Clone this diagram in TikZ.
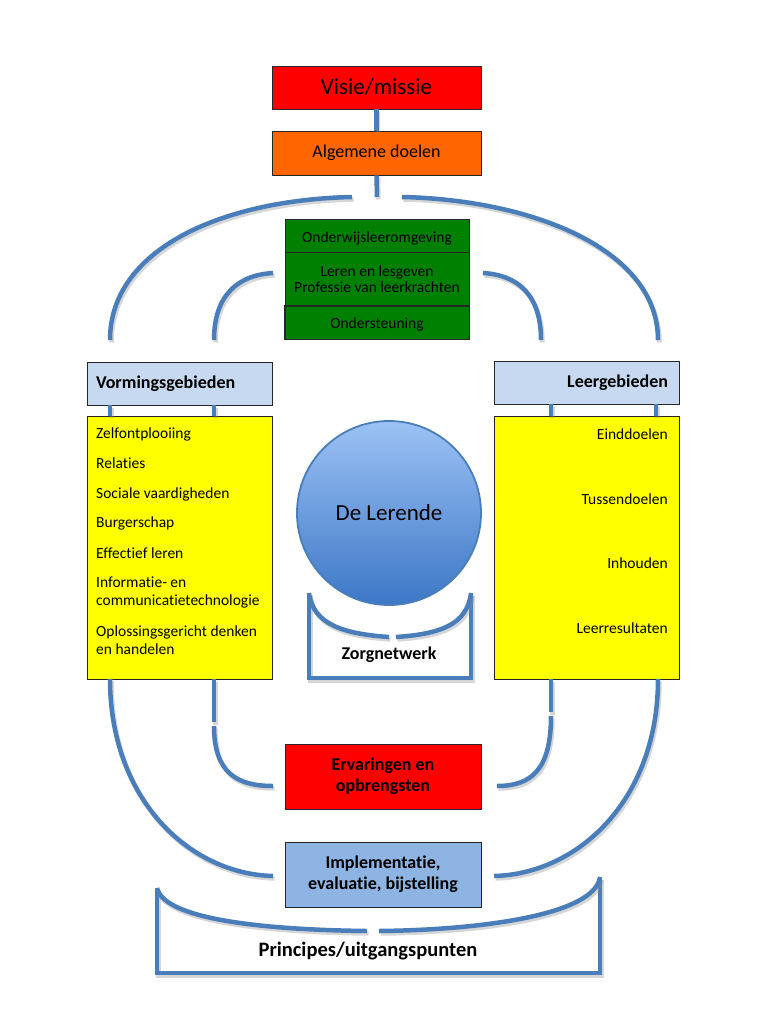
\documentclass[tikz,border=0pt]{standalone}
\usepackage{fontspec}
\setmainfont{Carlito}[Ligatures=NoCommon]
\definecolor{lineblue}{HTML}{4A7EBB}
\definecolor{vred}{HTML}{FF0000}
\definecolor{vorange}{HTML}{FF6600}
\definecolor{vgreen}{HTML}{008000}
\definecolor{vyellow}{HTML}{FFFF00}
\definecolor{hdrblue}{HTML}{C6D9F1}
\definecolor{implblue}{HTML}{8DB4E2}
\definecolor{ctop}{HTML}{9CC2F5}
\definecolor{cbot}{HTML}{3C77C6}
\begin{document}
\begin{tikzpicture}[x=1pt,y=-1pt,
  conn/.style={draw=lineblue, line width=4.5pt,
    preaction={draw=black!45, opacity=0.35, line width=4.5pt, transform canvas={shift={(1.5pt,-2.5pt)}}}},
  box/.style={draw=black!85, line width=0.9pt, inner sep=0pt, align=center},
  body/.style={font=\fontsize{15.5}{18}\selectfont},
  bodyb/.style={font=\fontsize{18}{21}\selectfont\bfseries},
  item/.style={body, anchor=west, align=left, inner sep=0pt},
  ritem/.style={body, anchor=east, align=right, inner sep=0pt}]
\useasboundingbox (0,0) rectangle (768,1024);
\fill[white] (0,0) rectangle (768,1024);

% top boxes
\node[box, fill=vred, minimum width=209, minimum height=43, font=\fontsize{23}{26}\selectfont] (visie) at (376.5,87.5) {Visie/missie};
\node[box, fill=vorange, minimum width=209, minimum height=44, font=\fontsize{18}{21}\selectfont] (doelen) at (376.5,153) {Algemene doelen};
\coordinate (topend) at (377,197);
\draw[conn] (visie.south) -- (doelen.north);
\draw[conn] (doelen.south) -- (topend);

% outer top arcs
\coordinate (otl) at (110,340);
\coordinate (otle) at (352,197);
\coordinate (otre) at (402,197);
\coordinate (otr) at (658,340);
\draw[conn] (otl) .. controls (110,250) and (220,200) .. (otle);
\draw[conn] (otre) .. controls (534,200) and (658,250) .. (otr);

% inner top arcs
\coordinate (itl) at (214,340);
\coordinate (itle) at (273,273);
\coordinate (itre) at (483,273);
\coordinate (itr) at (541,340);
\draw[conn] (itl) .. controls (214,295) and (238,275) .. (itle);
\draw[conn] (itre) .. controls (518,275) and (541,295) .. (itr);

% green block
\node[box, fill=vgreen, minimum width=184, minimum height=33] (g1) at (377,235.5) {};
\node[body, inner sep=0pt, anchor=base] (g1t) at (377,242) {Onderwijsleeromgeving};
\node[box, fill=vgreen, minimum width=184, minimum height=54, font=\fontsize{15.5}{16.5}\selectfont] (g2) at (377,279) {Leren en lesgeven\\Professie van leerkrachten};
\node[box, fill=vgreen, minimum width=184, minimum height=33] (g3) at (377,322.5) {};
\begin{scope}
  \clip (285,306) rectangle (469,330);
  \node[body, inner sep=0pt, anchor=base] (g3t) at (377,328) {Ondersteuning};
\end{scope}
\draw[black!85, line width=0.9pt] (g3.south west) rectangle (g3.north east);

% left column
\node[box, fill=hdrblue, minimum width=185, minimum height=43, text width=167, align=left, font=\fontsize{18}{21}\selectfont\bfseries] (vorm) at (179.5,383.5) {Vormingsgebieden};
\node[box, fill=vyellow, minimum width=185, minimum height=263] (yl) at (179.5,547.5) {};
\draw[conn] (vorm.south -| 110,0) -- (yl.north -| 110,0);
\draw[conn] (vorm.south -| 214,0) -- (yl.north -| 214,0);
\node[item] (l1) at (96,434) {Zelfontplooiing};
\node[item] (l2) at (96,463) {Relaties};
\node[item] (l3) at (96,494) {Sociale vaardigheden};
\node[item] (l4) at (96,523) {Burgerschap};
\node[item] (l5) at (96,553) {Effectief leren};
\node[item] (l6) at (96,592) {Informatie- en\\communicatietechnologie};
\node[item] (l7) at (96,640.5) {Oplossingsgericht denken\\en handelen};

% right column
\node[box, fill=hdrblue, minimum width=185, minimum height=43, text width=163, align=right, font=\fontsize{18}{21}\selectfont\bfseries] (leer) at (586.5,382.5) {Leergebieden};
\node[box, fill=vyellow, minimum width=185, minimum height=263] (yr) at (586.5,547.5) {};
\draw[conn] (leer.south -| 551,0) -- (yr.north -| 551,0);
\draw[conn] (leer.south -| 656,0) -- (yr.north -| 656,0);
\node[ritem] (r1) at (668,434) {Einddoelen};
\node[ritem] (r2) at (668,499) {Tussendoelen};
\node[ritem] (r3) at (668,563) {Inhouden};
\node[ritem] (r4) at (668,628) {Leerresultaten};

% circle
\node[circle, draw=lineblue, line width=1.8pt, top color=ctop, bottom color=cbot, minimum size=184, inner sep=0pt, font=\fontsize{23}{26}\selectfont] (lerende) at (389,513) {De Lerende};

% zorgnetwerk bracket
\coordinate (zl) at (309,593);
\coordinate (zr) at (471,593);
\coordinate (zml) at (389,637);
\coordinate (zmr) at (396,637);
\draw[conn] (zl) -- (309,678) -- (471,678) -- (zr);
\draw[conn] (zl) .. controls (313,625) and (345,634) .. (zml);
\draw[conn] (zmr) .. controls (440,634) and (467,625) .. (zr);
\node[bodyb, inner sep=0pt] (zorg) at (389,655) {Zorgnetwerk};

% lower arcs
\coordinate (obl) at (110,679);
\coordinate (oble) at (273,876);
\coordinate (obr) at (658,679);
\coordinate (obre) at (494,876);
\draw[conn] (obl) .. controls (110,800) and (190,874) .. (oble);
\draw[conn] (obr) .. controls (658,800) and (578,874) .. (obre);
\coordinate (ibl) at (214,679);
\coordinate (ibl2) at (214,722);
\coordinate (ibl3) at (214,726);
\coordinate (ible) at (273,786);
\draw[conn] (ibl) -- (ibl2);
\draw[conn] (ibl3) .. controls (214,772) and (236,786) .. (ible);
\coordinate (ibr) at (551,679);
\coordinate (ibr2) at (551,712);
\coordinate (ibr3) at (551,716);
\coordinate (ibre) at (497,786);
\draw[conn] (ibr) -- (ibr2);
\draw[conn] (ibr3) .. controls (551,770) and (531,786) .. (ibre);

% bottom boxes
\node[box, fill=vred, minimum width=196, minimum height=65, bodyb] (erv) at (383,776.5) {Ervaringen en\\opbrengsten};
\node[box, fill=implblue, minimum width=196, minimum height=65, bodyb] (impl) at (383,874.5) {Implementatie,\\evaluatie, bijstelling};

% principes bracket
\coordinate (pl) at (157,888);
\coordinate (pr) at (600,877);
\coordinate (pml) at (367,931);
\coordinate (pmr) at (379,931);
\draw[conn] (pl) -- (157,973) -- (600,973) -- (pr);
\draw[conn] (pl) .. controls (165,922) and (280,930) .. (pml);
\draw[conn] (pmr) .. controls (480,930) and (595,915) .. (pr);
\node[font=\fontsize{20.5}{24}\selectfont\bfseries, inner sep=0pt] (princ) at (368,951) {Principes/uitgangspunten};
\end{tikzpicture}
\end{document}
